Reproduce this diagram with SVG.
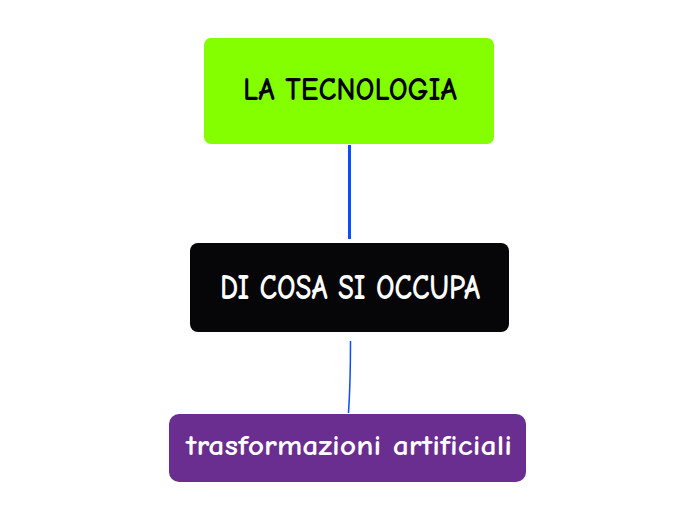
<svg xmlns="http://www.w3.org/2000/svg" width="696" height="520" viewBox="0 0 696 520">
<style>
.t{font-family:"Comic Neue","Liberation Sans","DejaVu Sans",sans-serif;text-anchor:middle;font-weight:bold}
</style>
<rect width="696" height="520" fill="#ffffff"/>
<g id="connectors" fill="none" stroke="#0a4dff">
<line x1="349.5" y1="145" x2="349.5" y2="239" stroke-width="3"/>
<path d="M350.5 341 C350.5 370 350 390 348.5 413" stroke-width="1.5"/>
</g>
<g id="node-tecnologia">
<rect x="204" y="38" width="290" height="106" rx="7" fill="#83ff00"/>
<text class="t" x="350" y="100" font-size="32" fill="#000" textLength="214" lengthAdjust="spacingAndGlyphs">LA TECNOLOGIA</text>
</g>
<g id="node-occupa">
<rect x="190" y="243" width="319" height="89" rx="8" fill="#060608"/>
<text class="t" x="350" y="299" font-size="36" fill="#fff" textLength="260" lengthAdjust="spacingAndGlyphs">DI COSA SI OCCUPA</text>
</g>
<g id="node-trasformazioni">
<rect x="169" y="414" width="357" height="68" rx="10" fill="#692e8f"/>
<text class="t" x="349" y="455" font-size="28" fill="#fff" textLength="326" lengthAdjust="spacingAndGlyphs">trasformazioni artificiali</text>
</g>
</svg>
